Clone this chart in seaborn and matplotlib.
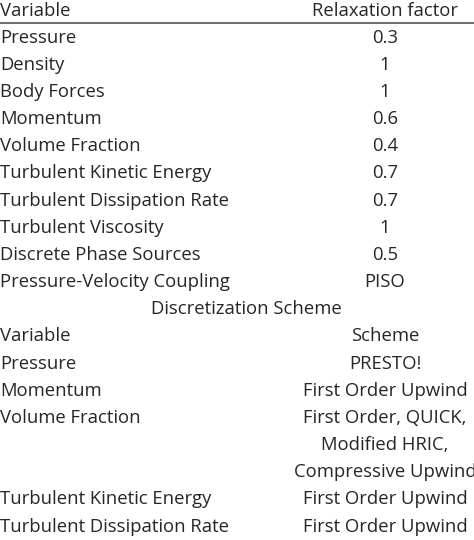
import seaborn as sns
import matplotlib.pyplot as plt

sns.set_style("white")
plt.rcParams['font.family'] = ['Open Sans', 'DejaVu Sans']

relax_vars = ["Pressure", "Density", "Body Forces", "Momentum", "Volume Fraction",
              "Turbulent Kinetic Energy", "Turbulent Dissipation Rate", "Turbulent Viscosity",
              "Discrete Phase Sources", "Pressure-Velocity Coupling"]
relax_vals = ["0.3", "1", "1", "0.6", "0.4", "0.7", "0.7", "1", "0.5", "PISO"]
scheme_vars = ["Pressure", "Momentum", "Volume Fraction", "", "", "Turbulent Kinetic Energy",
               "Turbulent Dissipation Rate"]
scheme_vals = ["PRESTO!", "First Order Upwind", "First Order, QUICK,", "Modified HRIC,",
               "Compressive Upwind", "First Order Upwind", "First Order Upwind"]

fig = plt.figure(figsize=(4.74, 5.4), dpi=100)
ax = fig.add_axes([0, 0, 1, 1])
ax.set_xlim(0, 474)
ax.set_ylim(540, 0)
ax.axis('off')

fs = 13.3
row = 27.1
x_left, x_right = 0, 385

def put(y, left, right):
    ax.text(x_left, y, left, fontsize=fs, va='center', ha='left')
    ax.text(x_right, y, right, fontsize=fs, va='center', ha='center')

put(11, "Variable", "Relaxation factor")
ax.axhline(23, color='#555555', lw=1.2)
for i, (v, r) in enumerate(zip(relax_vars, relax_vals)):
    put(38 + i * row, v, r)
ax.text(246, 309, "Discretization Scheme", fontsize=fs, va='center', ha='center')
put(336, "Variable", "Scheme")
for i, (v, s) in enumerate(zip(scheme_vars, scheme_vals)):
    put(364 + i * row, v, s)

fig.savefig("out.png", dpi=100)
